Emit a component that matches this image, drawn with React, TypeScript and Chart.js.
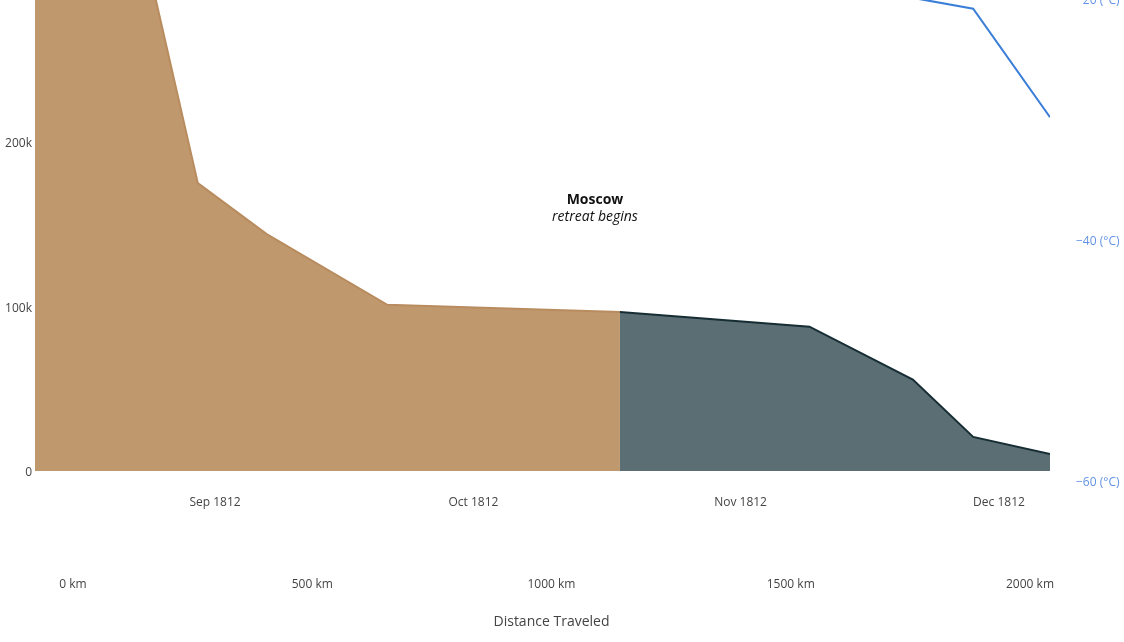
import React, { useEffect, useRef } from "react";
import { Chart, registerables } from "chart.js";

Chart.register(...registerables);

// Days counted from 1 Sep 1812 (day 0)
const ADVANCE_DAYS = [-20.9, -9, -2, 6, 20, 47];
const ADVANCE_SURVIVORS = [422000, 335000, 175000, 144000, 101000, 96700];

const RETREAT_DAYS = [47, 69, 81, 88, 96.92];
const RETREAT_SURVIVORS = [96700, 87700, 55600, 20700, 10300];

const TEMP_DAYS = [47, 53, 69, 74, 88, 96.92];
const TEMP_CELSIUS = [0, 0, -9, -19, -20.8, -29.8];

const DATE_TICK_DAYS = [0, 30, 61, 91];
const DATE_TICK_LABELS = ["Sep 1812", "Oct 1812", "Nov 1812", "Dec 1812"];

const DISTANCE_TICKS = [0, 500, 1000, 1500, 2000];
const DISTANCE_TITLE = "Distance Traveled";
const SURVIVOR_TICKS = [0, 100000, 200000, 300000, 400000];
const TEMP_TICKS = [-60, -40, -20, 0];

const ANNOTATION_DAY = 44.1;
const ANNOTATION_VALUE = 159600;
const ANNOTATION_TITLE = "Moscow";
const ANNOTATION_SUBTITLE = "retreat begins";

const FONT = "'Open Sans', 'Noto Sans', sans-serif";

const annotationPlugin = {
  id: "moscowNote",
  afterDatasetsDraw(chart: any) {
    const { ctx, scales } = chart;
    const px = scales.x.getPixelForValue(ANNOTATION_DAY);
    const py = scales.y.getPixelForValue(ANNOTATION_VALUE);
    ctx.save();
    ctx.fillStyle = "#111";
    ctx.textAlign = "center";
    ctx.textBaseline = "middle";
    ctx.font = `bold 14px ${FONT}`;
    ctx.fillText(ANNOTATION_TITLE, px, py - 8.5);
    ctx.font = `italic 14px ${FONT}`;
    ctx.fillText(ANNOTATION_SUBTITLE, px, py + 8.5);
    ctx.restore();
  },
  afterDraw(chart: any) {
    const { ctx, scales } = chart;
    const s = scales.x2;
    const mid = (DISTANCE_TICKS[0] + DISTANCE_TICKS[DISTANCE_TICKS.length - 1]) / 2;
    ctx.save();
    ctx.fillStyle = "#444";
    ctx.textAlign = "center";
    ctx.textBaseline = "middle";
    ctx.font = `14px ${FONT}`;
    ctx.fillText(DISTANCE_TITLE, s.getPixelForValue(mid), s.bottom - 8.4);
    ctx.restore();
  },
};

function fixSize(opts: { width?: number; height?: number }) {
  return (scale: any) => {
    if (opts.width !== undefined) scale.width = opts.width;
    if (opts.height !== undefined) scale.height = opts.height;
    scale.paddingTop = 0;
    scale.paddingBottom = 0;
    scale.paddingLeft = 0;
    scale.paddingRight = 0;
  };
}

function setTicks(values: number[]) {
  return (scale: any) => {
    scale.ticks = values.map((v) => ({ value: v }));
  };
}

const noGrid = { display: false, drawTicks: false };

export default function App() {
  const canvasRef = useRef<HTMLCanvasElement | null>(null);

  useEffect(() => {
    if (!canvasRef.current) return;
    const toPoints = (xs: number[], ys: number[]) => xs.map((x, i) => ({ x, y: ys[i] }));

    const chart = new Chart(canvasRef.current, {
      type: "line",
      data: {
        datasets: [
          {
            label: "Temperature",
            data: toPoints(TEMP_DAYS, TEMP_CELSIUS),
            xAxisID: "x",
            yAxisID: "yT",
            borderColor: "rgb(58,126,216)",
            borderWidth: 2,
            pointRadius: 0,
            fill: false,
            tension: 0,
            order: 0,
          },
          {
            label: "Advance",
            data: toPoints(ADVANCE_DAYS, ADVANCE_SURVIVORS),
            xAxisID: "x",
            yAxisID: "y",
            borderColor: "rgb(184,140,94)",
            backgroundColor: "rgb(192,152,110)",
            borderWidth: 2,
            pointRadius: 0,
            fill: "origin",
            tension: 0,
            order: 2,
          },
          {
            label: "Retreat",
            data: toPoints(RETREAT_DAYS, RETREAT_SURVIVORS),
            xAxisID: "x",
            yAxisID: "y",
            borderColor: "rgb(22,45,52)",
            backgroundColor: "rgb(91,110,116)",
            borderWidth: 2,
            pointRadius: 0,
            fill: "origin",
            tension: 0,
            order: 1,
          },
        ],
      },
      options: {
        animation: false,
        responsive: true,
        maintainAspectRatio: false,
        layout: { padding: { top: 10, bottom: 11.6, left: 0, right: 0 } },
        plugins: {
          legend: { display: false },
          tooltip: { enabled: false },
        },
        scales: {
          x: {
            type: "linear",
            position: "bottom",
            weight: 0,
            min: -20.9,
            max: 96.92,
            grid: noGrid,
            border: { display: false },
            afterBuildTicks: setTicks(DATE_TICK_DAYS),
            afterFit: fixSize({ height: 40 }),
            ticks: {
              padding: 13,
              maxRotation: 0,
              autoSkip: false,
              color: "#444",
              font: { family: FONT, size: 12 },
              callback: (v: any) => {
                const i = DATE_TICK_DAYS.indexOf(Number(v));
                return i >= 0 ? DATE_TICK_LABELS[i] : "";
              },
            },
          },
          x2: {
            type: "linear",
            position: "bottom",
            weight: 1,
            min: -79.4,
            max: 2041.8,
            grid: noGrid,
            border: { display: false },
            afterBuildTicks: setTicks(DISTANCE_TICKS),
            afterFit: fixSize({ height: 108.4 }),
            ticks: {
              padding: 55,
              maxRotation: 0,
              autoSkip: false,
              color: "#444",
              font: { family: FONT, size: 12 },
              callback: (v: any) => `${v} km`,
            },
          },
          y: {
            type: "linear",
            position: "left",
            min: -6687,
            max: 462614,
            grid: noGrid,
            border: { display: false },
            afterBuildTicks: setTicks(SURVIVOR_TICKS),
            afterFit: fixSize({ width: 35 }),
            ticks: {
              padding: 3,
              labelOffset: 2,
              color: "#444",
              font: { family: FONT, size: 12 },
              callback: (v: any) => (Number(v) === 0 ? "0" : `${Number(v) / 1000}k`),
            },
          },
          yT: {
            type: "linear",
            position: "right",
            min: -60.08,
            max: 4.0,
            grid: noGrid,
            border: { display: false },
            afterBuildTicks: setTicks(TEMP_TICKS),
            afterFit: fixSize({ width: 74 }),
            ticks: {
              padding: 26,
              labelOffset: 1.5,
              color: "rgb(98,146,228)",
              font: { family: FONT, size: 12 },
              callback: (v: any) => {
                const n = Number(v);
                return `${n < 0 ? "\u2212" : ""}${Math.abs(n)} (°C)`;
              },
            },
          },
        },
      },
      plugins: [annotationPlugin],
    } as any);

    return () => chart.destroy();
  }, []);

  return (
    <div
      style={{
        position: "absolute",
        left: 0,
        top: -300,
        width: 1124,
        height: 942,
      }}
    >
      <canvas ref={canvasRef} />
    </div>
  );
}
